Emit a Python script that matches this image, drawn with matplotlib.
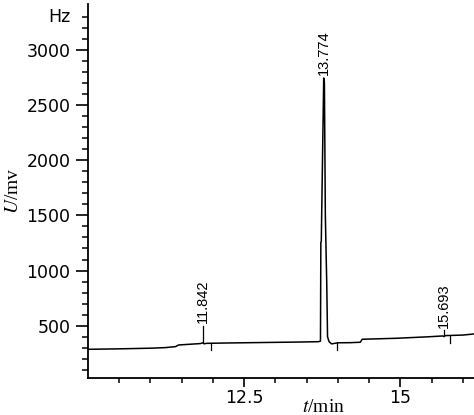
import matplotlib
matplotlib.use("Agg")
import matplotlib.pyplot as plt
import matplotlib.transforms as mtransforms

# chromatogram trace
t_min = [10.00, 10.50, 11.00, 11.23, 11.40, 11.45, 11.80, 11.84, 11.86, 11.90,
         12.20, 12.60, 13.00, 13.40, 13.69, 13.722, 13.728, 13.735, 13.774, 13.785,
         13.80, 13.815, 13.822, 13.835, 13.86, 13.90, 13.95, 14.00, 14.20, 14.36,
         14.39, 14.94, 15.47, 15.68, 15.70, 15.72, 16.00, 16.18]
signal = [286, 290, 296, 301, 310, 325, 338, 345, 336, 340,
          343, 346, 349, 352, 355, 360, 1255, 1265, 2746, 2700,
          1500, 1080, 900, 400, 355, 335, 340, 345, 346, 350,
          377, 386, 400, 407, 402, 410, 415, 425]

peak_times = [11.842, 13.774, 15.693]
peak_labels = ["11.842", "13.774", "15.693"]
peak_base = [340, 2746, 404]
label_start = [520, 2770, 480]
end_marks = [11.97, 13.98, 15.79]
end_base = [340, 342, 405]

y_major = [500, 1000, 1500, 2000, 2500, 3000]
y_minor = [v for v in range(100, 3400, 100) if v % 500 != 0]
x_major = [12.5, 15]
x_major_labels = ["12.5", "15"]
x_minor = [10.5, 11.0, 11.5, 12.0, 13.0, 13.5, 14.0, 14.5, 15.5, 16.0]

plt.rcParams['mathtext.fontset'] = 'stix'

fig = plt.figure(figsize=(4.74, 4.15), dpi=100)
ax = fig.add_axes([88/474, 36.7/415, 386/474, 374.3/415])

ax.plot(t_min, signal, color="black", lw=1.1)

# peak markers and labels
for t, lab, b, s in zip(peak_times, peak_labels, peak_base, label_start):
    ax.plot([t, t], [b, s - 20], color="black", lw=0.9)
    ax.text(t, s, lab, rotation=90, ha="center", va="bottom",
            fontsize=10.5, family="Liberation Sans")
for t, b in zip(end_marks, end_base):
    ax.plot([t, t], [b, b - 60], color="black", lw=0.9)

ax.set_xlim(10.0, 16.18)
ax.set_ylim(23, 3417)

ax.spines["top"].set_visible(False)
ax.spines["right"].set_visible(False)
ax.spines["left"].set_linewidth(1.3)
ax.spines["bottom"].set_linewidth(1.3)

ax.set_yticks(y_major)
ax.set_yticks(y_minor, minor=True)
ax.set_xticks(x_major)
ax.set_xticklabels(x_major_labels)
ax.set_xticks(x_minor, minor=True)

ax.tick_params(axis="y", which="major", length=8.6, width=1.2, pad=4,
               labelsize=12.5, direction="out")
ax.tick_params(axis="y", which="minor", length=4.5, width=1.1, direction="out")
ax.tick_params(axis="x", which="major", length=6.5, width=1.2, pad=1.5,
               labelsize=12.5, direction="out")
ax.tick_params(axis="x", which="minor", length=3.5, width=1.1, direction="out")

# unit label next to the top of the y axis
trans = mtransforms.blended_transform_factory(ax.transAxes, ax.transData)
ax.text(-18/386, 3300, "Hz", transform=trans, ha="right", va="center",
        fontsize=12.5)

ax.set_xlabel("$t$/min", fontsize=14, family="Liberation Serif")
ax.xaxis.set_label_coords(0.609, -0.055)
ax.set_ylabel("$U$/mv", fontsize=14, family="Liberation Serif")
ax.yaxis.set_label_coords(-0.171, 0.5)

fig.savefig("out.png", dpi=100)
